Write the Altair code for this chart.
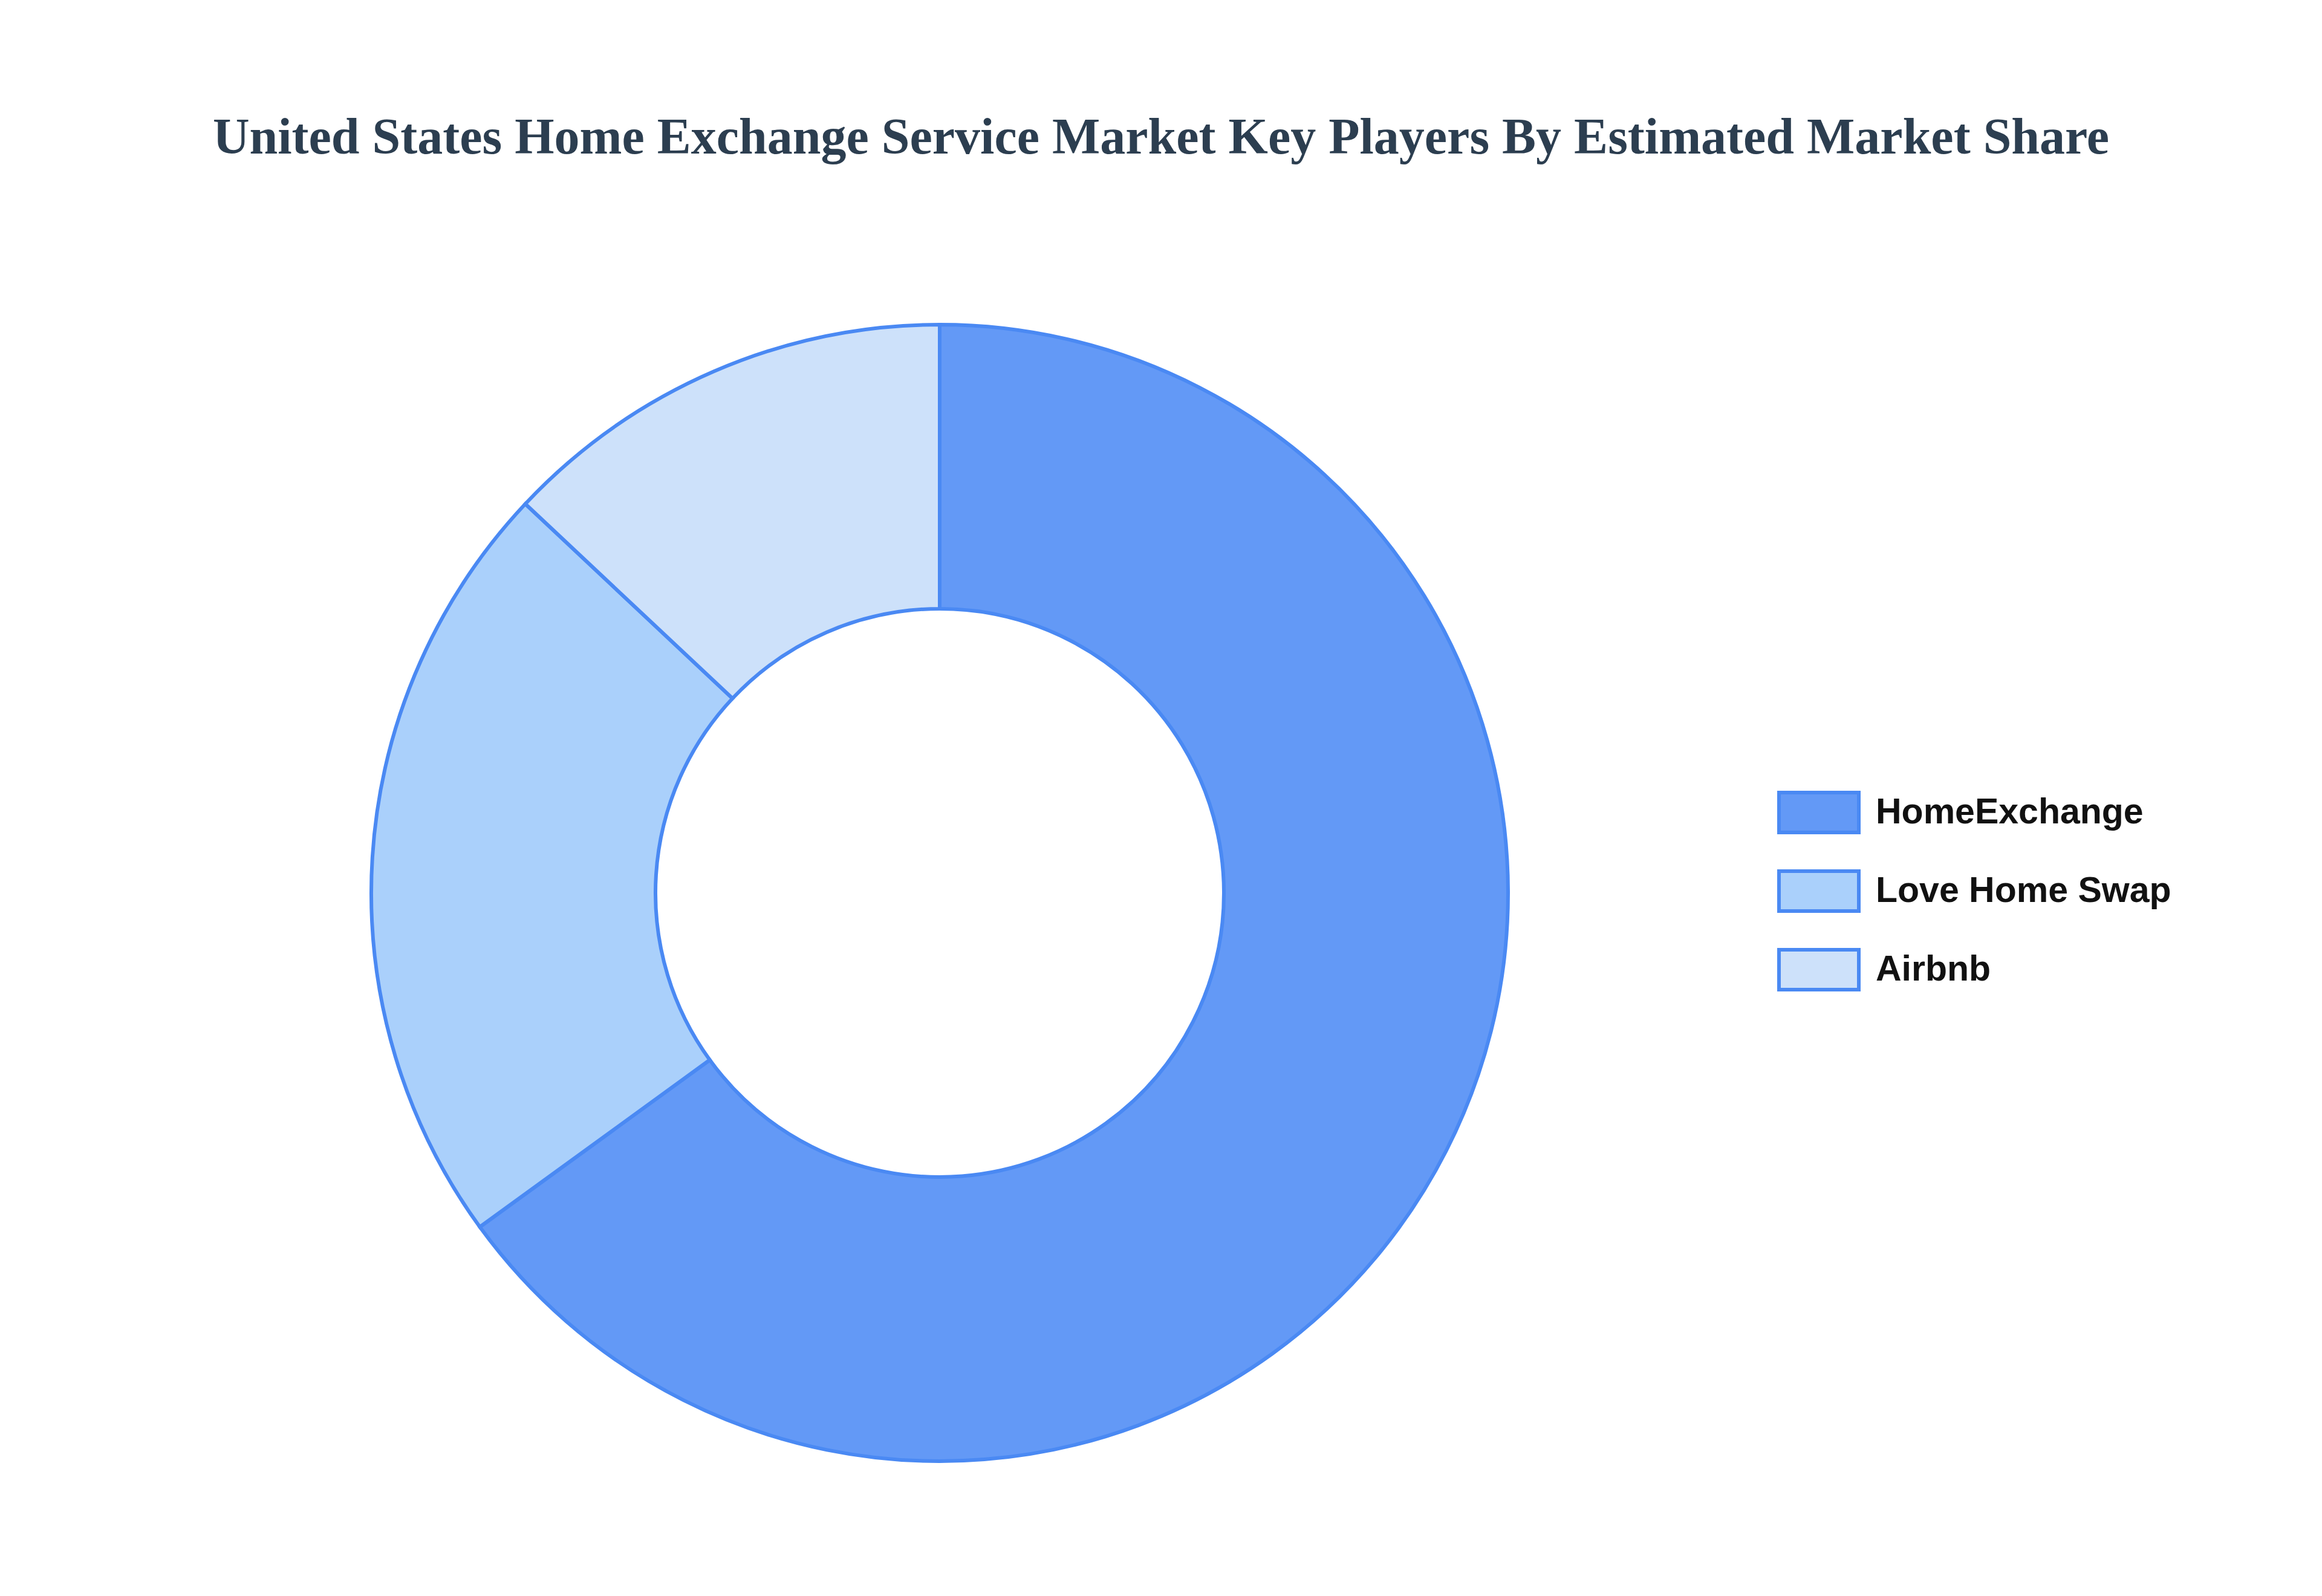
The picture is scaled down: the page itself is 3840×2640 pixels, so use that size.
import altair as alt
import pandas as pd

companies = ["HomeExchange", "Love Home Swap", "Airbnb"]
shares = [65, 22, 13]
colors = ["#6399F6", "#AAD0FB", "#CDE1FA"]
rank = [1, 2, 3]

df = pd.DataFrame({"Company": companies, "Share": shares, "Rank": rank})

OUTER = 940
STROKE = "#4A89F3"

chart = (
    alt.Chart(df)
    .mark_arc(outerRadius=OUTER, innerRadius=OUTER * 0.5, stroke=STROKE, strokeWidth=6)
    .encode(
        theta=alt.Theta("Share:Q", stack=True),
        order=alt.Order("Rank:Q"),
        color=alt.Color(
            "Company:N",
            sort=companies,
            scale=alt.Scale(domain=companies, range=colors),
            legend=alt.Legend(
                title=None,
                orient="none",
                legendX=2931,
                legendY=847,
                symbolType="M-1,-0.5H1V0.5H-1Z",
                symbolSize=17424,
                symbolStrokeColor=STROKE,
                symbolStrokeWidth=6,
                symbolOpacity=1,
                labelFont="Liberation Sans",
                labelFontWeight="bold",
                labelFontSize=59,
                labelColor="#111111",
                labelOffset=25,
                labelLimit=1200,
                rowPadding=16,
                padding=0,
            ),
        ),
    )
    .properties(
        width=3092,
        height=2098,
        padding={"left": 0, "top": 420, "right": 732, "bottom": 0},
        autosize=alt.AutoSizeParams(type="none"),
        title=alt.TitleParams(
            "United States Home Exchange Service Market Key Players By Estimated Market Share",
            font="Liberation Serif",
            fontSize=84,
            fontWeight="bold",
            color="#2C3E50",
            anchor="middle",
            frame="group",
            dx=366,
            baseline="alphabetic",
            offset=90,
        ),
    )
    .configure_view(stroke=None)
)

chart.save("out.html", embed_options={"renderer": "svg", "actions": False})
